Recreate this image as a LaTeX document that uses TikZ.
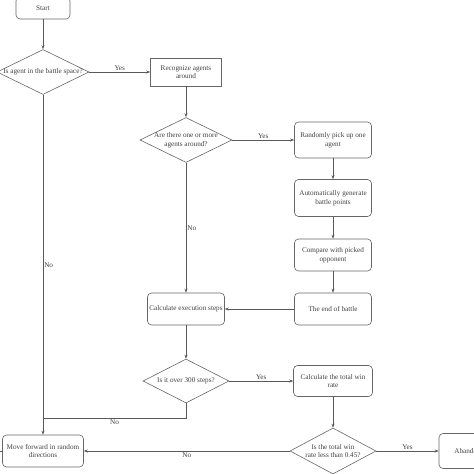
\documentclass[tikz,border=0pt]{standalone}
\usepackage{fontspec}
\setmainfont{Liberation Serif}
\usetikzlibrary{shapes.geometric,arrows.meta}

\begin{document}
\begin{tikzpicture}[
    x=1pt, y=-1pt,
    font=\fontsize{7.2}{8.6}\selectfont, text=black!75,
    line/.style={draw=black!65, line width=0.6pt},
    box/.style={rectangle, draw=black!60, line width=0.6pt, minimum width=77pt, minimum height=32pt, align=center, inner sep=1pt},
    rbox/.style={box, rounded corners=4pt},
    decision/.style={diamond, draw=black!60, line width=0.6pt, inner sep=0pt},
    flow/.style={line, -{Stealth[length=4pt,width=3pt]}},
    lbl/.style={fill=none, draw=none, inner sep=1pt}
]
    \useasboundingbox (0,0) rectangle (474,474);
    \clip (0,0) rectangle (474,474);

    % Boxes
    \node[rbox, minimum width=54pt, minimum height=22pt] (start) at (43,8) {Start};
    \node[box, minimum width=71pt, minimum height=28pt] (recog) at (186,72) {Recognize agents\\around};
    \node[rbox, minimum height=36pt] (pick) at (333,140) {Randomly pick up one\\agent};
    \node[rbox, minimum height=37pt] (gen) at (333,198) {Automatically generate\\battle points};
    \node[rbox] (comp) at (333,255) {Compare with picked\\opponent};
    \node[rbox] (endb) at (333,309) {The end of battle};
    \node[rbox] (steps) at (186,309) {Calculate execution steps};
    \node[rbox, minimum width=81pt] (move) at (43,451) {Move forward in random\\directions};
    \node[rbox, minimum width=79pt, minimum height=31pt] (rate) at (333,381) {Calculate the total win\\rate};
    \node[rbox, minimum width=57pt, minimum height=35pt] (aband) at (467.5,451) {Abandon};

    % Decisions
    \foreach \name/\x/\y/\w/\h/\txt in {
        inspace/43/72/92/45/{Is agent in the battle space?},
        around/186/140/92/45/{Are there one or more\\agents around?},
        over/186/381/86/44/{Is it over 300 steps?},
        less/333/451/86/46/{Is the total win\\rate less than 0.45?}} {
        \node[decision, minimum width=\w pt, minimum height=\h pt] (\name) at (\x,\y) {};
        \node[lbl, align=center] at (\name) {\txt};
    }

    % Connectors
    \draw[flow] (start) -- (inspace);
    \draw[flow] (inspace.east) -- node[lbl, above] {Yes} (recog.west);
    \draw[flow] (recog) -- (around);
    \draw[flow] (around.east) -- node[lbl, above] {Yes} (pick.west);
    \draw[flow] (pick) -- (gen);
    \draw[flow] (gen) -- (comp);
    \draw[flow] (comp) -- (endb);
    \draw[flow] (endb.west) -- (steps.east);
    \draw[flow] (around.south) -- node[lbl, right] {No} (steps.north);
    \draw[flow] (inspace.south) -- node[lbl, right] {No} (move.north);
    \draw[flow] (steps) -- (over);
    \draw[flow] (over.east) -- node[lbl, above] {Yes} (rate.west);
    \coordinate (join) at (43,418);
    \draw[line] (over.south) |- node[lbl, below, pos=0.75] {No} (join);
    \draw[flow] (rate) -- (less);
    \draw[flow] (less.west) -- node[lbl, below] {No} (move.east);
    \draw[flow] (less.east) -- node[lbl, above] {Yes} (aband.west);
    \coordinate (out) at (-10,451);
    \draw[line] (move.west) -- (out);
\end{tikzpicture}
\end{document}
